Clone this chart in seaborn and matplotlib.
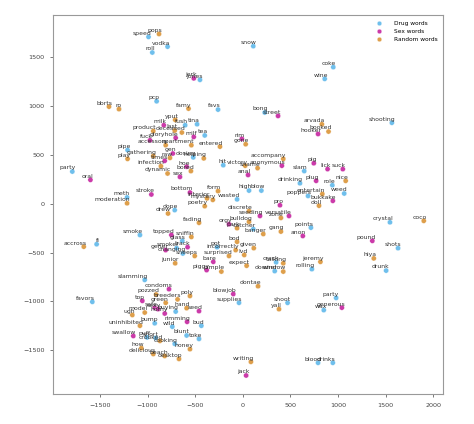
import pandas as pd
import seaborn as sns
import matplotlib.pyplot as plt

# word embedding (t-SNE) coordinates
drug_words = ['speed', 'vodka', 'roll', 'snow', 'coke', 'wine', 'jones', 'bong', 'shooting', 'pcp',
              'favs', 'fush', 'tina', 'tea', 'pipe', 'dosing', 'hit', 'slam', 'role', 'drinking',
              'high', 'blow', 'poppers', 'weed', 'wasted', 'catcher', 'points', 'crystal', 'shots', 'drunk',
              'rolling', 'crack', 'downer', 'pot', 'supplies', 'shoot', 'party', 'wax', 'blood', 'drinks',
              'dope', 'glass', 'smoker', 'changing', 'smoke', 'meth', 'party', 'fi', 'slamming', 'favors',
              'buying', 'bud', 'bump', 'wild', 'puff', 'snort', 'blunt', 'toke', 'cooking']
drug_x = [-990, -790, -950, 110, 950, 860, -450, 230, 1565, -905,
          -260, -605, -480, -400, -1210, -520, -205, 645, 940, 600,
          65, 195, 685, 1065, -60, 110, 715, 1545, 1630, 1505,
          725, 350, 335, -270, -40, 470, 980, 850, 790, 945,
          -715, -635, -695, -630, -1080, -1215, -1790, -1535, -1030, -1580,
          -705, -435, -925, -740, -1005, -915, -590, -460, -715]
drug_y = [1710, 1610, 1550, 1615, 1400, 1280, 1270, 935, 830, 1050,
          965, 805, 815, 700, 550, 475, 395, 335, 190, 210,
          135, 135, 80, 105, 45, -260, -245, -190, -455, -685,
          -670, -600, -690, -445, -1015, -1015, -965, -1090, -1630, -1630,
          -65, -380, -455, -510, -320, 65, 330, -415, -780, -1005,
          -1105, -1250, -1225, -1260, -1370, -1375, -1350, -1385, -1435]

sex_words = ['jerk', 'street', 'hooker', 'rim', 'milk', 'milf', 'fuck', 'gloryhole', 'gen', 'times',
             'sex', 'hoe', 'anal', 'anonymous', 'pig', 'lick', 'suck', 'plug', 'bukkake', 'pro',
             'seeding', 'versatile', 'orgy', 'anon', 'pound', 'bare', 'piggy', 'blowjob', 'generous', 'jack',
             'bottom', 'stroke', 'oral', 'topped', 'gener', 'track', 'condoms', 'top', 'safe', 'seed',
             'sexy', 'horny', 'rimming', 'swallow']
sex_x = [-515, 370, 790, -10, -830, -515, -975, -705, -735, -820,
         -660, -590, 55, 410, 745, 890, 1050, 770, 945, 390,
         180, 485, -145, 630, 1360, -310, -380, -100, 1040, 35,
         -555, -960, -1600, -750, -810, -580, -775, -1055, -925, -460,
         -890, -820, -585, -1150]
sex_y = [1285, 900, 715, 665, 805, 685, 650, 675, 515, 440,
         275, 380, 295, 390, 415, 355, 355, 235, 30, -15,
         -125, -125, -210, -330, -380, -595, -680, -925, -1065, -1760,
         115, 95, 245, -320, -475, -445, -875, -995, -1065, -1100,
         -1080, -1125, -1210, -1355]

random_words = ['pops', 'arvada', 'booked', 'gone', 'bbrts', 'ro', 'famy', 'yput', 'product', 'last',
                'deceased', 'accessory', 'apartment', 'entered', 'gathering', 'play', 'raw', 'helping',
                'infection', 'dynamic', 'bored', 'victory', 'shame', 'accompany', 'nice', 'entertain',
                'doll', 'form', 'interior', 'mystery', 'poetry', 'moderation', 'drew', 'discrete', 'zone',
                'bulldog', 'park', 'gang', 'banger', 'fading', 'sniffin', 'sheeps', 'junior', 'coco',
                'hiya', 'jeremy', 'talking', 'window', 'given', 'lvd', 'expect', 'bod', 'incorrectly',
                'surprised', 'pimple', 'dontae', 'yall', 'writing', 'accross', 'pozzed', 'poly', 'breeders',
                'green', 'hand', 'model', 'ugh', 'uninhibited', 'crooked', 'honey', 'how', 'delicious',
                'beach', 'desktop']
random_x = [-880, 830, 900, 30, -1405, -1300, -570, -710, -940, -715,
            -640, -810, -540, -240, -940, -1210, -765, -410,
            -860, -790, -545, 25, 155, 425, 1080, 835,
            800, -260, -375, -315, -400, -1215, -785, 65, 400,
            65, -60, 400, 215, -460, -540, -505, -710, 1900,
            1375, 815, 425, 425, 115, 15, 40, -60, -75,
            -145, -225, 160, 380, 85, -1670, -910, -555, -685,
            -810, -590, -1030, -1160, -1080, -870, -555, -1065, -940,
            -820, -670]
random_y = [1740, 815, 740, 610, 995, 970, 975, 860, 745, 750,
            730, 600, 600, 585, 490, 460, 470, 465,
            385, 310, 335, 390, 365, 460, 235, 100,
            -20, 130, 55, 40, -25, 5, -100, -75, -145,
            -185, -250, -285, -310, -195, -340, -535, -610, -175,
            -560, -595, -610, -695, -455, -525, -635, -390, -475,
            -535, -695, -845, -1080, -1620, -440, -930, -945, -980,
            -1015, -1070, -1115, -1140, -1250, -1405, -1490, -1480, -1540,
            -1560, -1590]

groups = ['Drug words', 'Sex words', 'Random words']
colors = ['#56B4E9', '#C2179A', '#D98E2B']

df = pd.concat([
    pd.DataFrame({'word': drug_words, 'x': drug_x, 'y': drug_y, 'group': groups[0]}),
    pd.DataFrame({'word': sex_words, 'x': sex_x, 'y': sex_y, 'group': groups[1]}),
    pd.DataFrame({'word': random_words, 'x': random_x, 'y': random_y, 'group': groups[2]}),
], ignore_index=True)

fig = plt.figure(figsize=(4.74, 4.24), dpi=100)
ax = fig.add_axes([0.112, 0.07, 0.823, 0.895])

sns.scatterplot(data=df, x='x', y='y', hue='group', hue_order=groups,
                palette=dict(zip(groups, colors)), s=14, alpha=0.85,
                edgecolor='white', linewidth=0.3, ax=ax)

for _, row in df.iterrows():
    ax.annotate(row['word'], xy=(row['x'], row['y']), xytext=(2.2, 0.8),
                textcoords='offset points', ha='right', va='bottom',
                fontsize=4.4, color='#333333')

ax.set_xlim(-1992, 2104)
ax.set_ylim(-1953, 1936)
ax.set_xticks([-1500, -1000, -500, 0, 500, 1000, 1500, 2000])
ax.set_yticks([-1500, -1000, -500, 0, 500, 1000, 1500])
ax.tick_params(labelsize=4.6, colors='#444444', length=2.5, width=0.5)
for sp in ax.spines.values():
    sp.set_color('#999999')
    sp.set_linewidth(0.8)
ax.set_xlabel(None)
ax.set_ylabel(None)

handles, labels = ax.get_legend_handles_labels()
ax.legend(handles, labels, loc='upper right', frameon=False, fontsize=4.2,
          markerscale=0.9, handletextpad=1.5, borderaxespad=0.6)

plt.savefig('out.png', dpi=100)
plt.close()
